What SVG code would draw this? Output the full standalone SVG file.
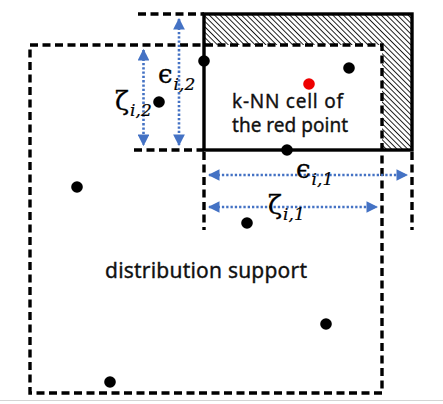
<svg xmlns="http://www.w3.org/2000/svg" width="443" height="404" viewBox="0 0 443 404">
<defs>
<pattern id="hatch" patternUnits="userSpaceOnUse" width="3.8" height="3.8" patternTransform="rotate(-45)">
<line x1="0" y1="0" x2="0" y2="3.8" stroke="#000" stroke-width="1.7"/>
</pattern>
<marker id="ah" viewBox="0 0 10 10" refX="9" refY="5" markerWidth="4.5" markerHeight="4.5" orient="auto-start-reverse" markerUnits="strokeWidth">
<path d="M0,0 L10,5 L0,10 z" fill="#4472C4"/>
</marker>
<style>
.dash{fill:none;stroke:#000;stroke-width:3.4;stroke-dasharray:8 4.5}
.solid{fill:none;stroke:#000;stroke-width:3.4}
.arr{fill:none;stroke:#4472C4;stroke-width:2.6;stroke-dasharray:2.3 2;marker-start:url(#ah);marker-end:url(#ah)}
.dot{fill:#000}
.lbl{font-family:"Noto Sans","Open Sans","DejaVu Sans",sans-serif;font-size:19px;fill:#111;stroke:#111;stroke-width:0.35}
.big{font-family:"Noto Sans","Open Sans","DejaVu Sans",sans-serif;font-size:21px;fill:#111;stroke:#111;stroke-width:0.35}
.math{font-family:"DejaVu Serif","Liberation Serif",serif;font-size:26px;fill:#000;stroke:#000;stroke-width:0.3}
.sub{font-family:"DejaVu Serif","Liberation Serif",serif;font-style:italic;font-size:17px;fill:#000;stroke:#000;stroke-width:0.2}
</style>
</defs>
<rect width="443" height="404" fill="#fff"/>
<line x1="0" y1="400.5" x2="443" y2="400.5" stroke="#d4d4d4" stroke-width="1"/>
<g id="hatched">
<path d="M204,14 H412 V150 H382 V45 H204 Z" fill="url(#hatch)"/>
</g>
<g id="support">
<rect class="dash" x="30" y="45" width="352" height="348"/>
</g>
<g id="knn-cell">
<rect class="solid" x="204" y="14" width="208" height="136"/>
<text class="lbl" x="232" y="108" textLength="111">k-NN cell of</text>
<text class="lbl" x="232" y="132" textLength="116">the red point</text>
</g>
<g id="guides">
<line class="dash" x1="138" y1="14" x2="204" y2="14"/>
<line class="dash" x1="134" y1="150" x2="204" y2="150"/>
<line class="dash" x1="204" y1="152" x2="204" y2="230"/>
<line class="dash" x1="412" y1="152" x2="412" y2="230"/>
</g>
<g id="connectors">
<line class="arr" x1="209" y1="175" x2="407" y2="175"/>
<line class="arr" x1="209" y1="207" x2="377" y2="207"/>
<line class="arr" x1="179" y1="19" x2="179" y2="145"/>
<line class="arr" x1="143.5" y1="50" x2="143.5" y2="145"/>
</g>
<g id="labels">
<text x="296" y="178"><tspan class="math">ϵ</tspan><tspan class="sub" dx="1" dy="7">i,1</tspan></text>
<text x="268" y="214"><tspan class="math">ζ</tspan><tspan class="sub" dx="1" dy="6">i,1</tspan></text>
<text x="158" y="83"><tspan class="math">ϵ</tspan><tspan class="sub" dx="1" dy="7">i,2</tspan></text>
<text x="115" y="110"><tspan class="math">ζ</tspan><tspan class="sub" dx="1" dy="6">i,2</tspan></text>
<text class="big" x="105" y="278" textLength="202">distribution support</text>
</g>
<g id="points">
<circle class="dot" cx="204" cy="61" r="5.8"/>
<circle class="dot" cx="349" cy="68" r="5.8"/>
<circle cx="309" cy="84" r="5.8" fill="#e00"/>
<circle class="dot" cx="287" cy="150" r="5.8"/>
<circle class="dot" cx="159" cy="102" r="5.8"/>
<circle class="dot" cx="77" cy="187" r="5.8"/>
<circle class="dot" cx="247" cy="223" r="5.8"/>
<circle class="dot" cx="326" cy="324" r="5.8"/>
<circle class="dot" cx="110" cy="382" r="5.8"/>
</g>
</svg>
